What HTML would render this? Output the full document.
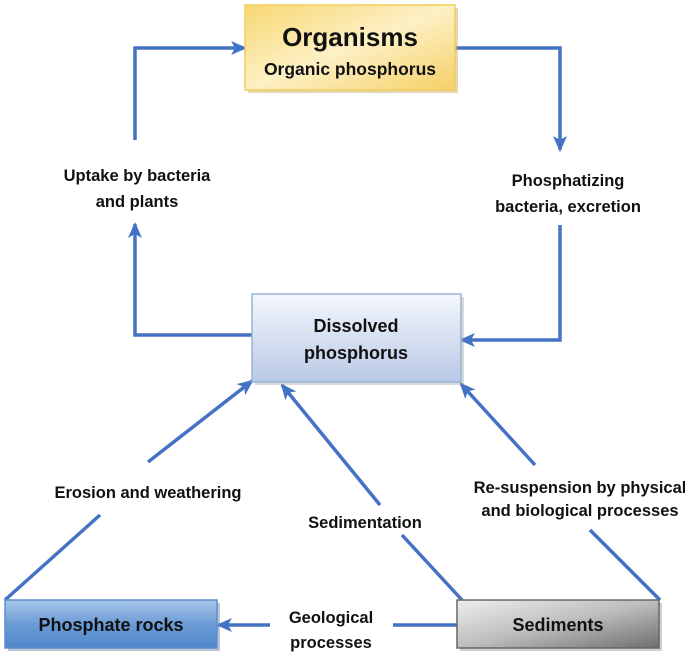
<!DOCTYPE html>
<html><head><meta charset="utf-8"><style>
html,body{margin:0;padding:0;background:#fff;}
svg{display:block;font-family:"Liberation Sans",Arial,sans-serif;font-weight:bold;}
</style></head><body>
<svg width="685" height="656" viewBox="0 0 685 656" xmlns="http://www.w3.org/2000/svg">
<defs>
<linearGradient id="gy" x1="0" y1="0" x2="1" y2="1"><stop offset="0" stop-color="#f7d873"/><stop offset="0.5" stop-color="#fdf0c4"/><stop offset="1" stop-color="#f5d066"/></linearGradient>
<linearGradient id="gb" x1="0" y1="0" x2="0" y2="1"><stop offset="0" stop-color="#f4f7fc"/><stop offset="1" stop-color="#b9c9e6"/></linearGradient>
<linearGradient id="gr" x1="0" y1="0" x2="0" y2="1"><stop offset="0" stop-color="#a9c8ea"/><stop offset="0.5" stop-color="#6b9bd6"/><stop offset="1" stop-color="#4f86c9"/></linearGradient>
<linearGradient id="gs" x1="0" y1="0" x2="1" y2="1"><stop offset="0" stop-color="#eeeeee"/><stop offset="0.5" stop-color="#bdbdbd"/><stop offset="1" stop-color="#6e6e6e"/></linearGradient>
<marker id="a" markerWidth="16" markerHeight="14" refX="14" refY="7" orient="auto" markerUnits="userSpaceOnUse"><path d="M0,0 L16,7 L0,14 L4,7 Z" fill="#4472c4"/></marker>
</defs>
<g stroke="#4472c4" stroke-width="3.5" fill="none">
<polyline points="135,140 135,48 245,48" marker-end="url(#a)"/>
<polyline points="455,48 560,48 560,150" marker-end="url(#a)"/>
<polyline points="252,335 135,335 135,224" marker-end="url(#a)"/>
<polyline points="560,225 560,340 461,340" marker-end="url(#a)"/>
<line x1="5" y1="600" x2="100" y2="515"/>
<line x1="148" y1="462" x2="252" y2="381" marker-end="url(#a)"/>
<line x1="462" y1="600" x2="402" y2="535"/>
<line x1="380" y1="505" x2="282" y2="385" marker-end="url(#a)"/>
<line x1="660" y1="600" x2="590" y2="530"/>
<line x1="535" y1="465" x2="461" y2="384" marker-end="url(#a)"/>
<line x1="393" y1="625" x2="457" y2="625"/>
<line x1="270" y1="625" x2="218" y2="625" marker-end="url(#a)"/>
</g>
<rect x="248" y="8" width="210" height="85" fill="#c9b06a" opacity="0.5"/>
<rect x="245" y="5" width="210" height="85" fill="url(#gy)" stroke="#f2cd5c" stroke-width="1.5"/>
<rect x="255" y="297" width="209" height="88" fill="#a0a0a0" opacity="0.4"/>
<rect x="252" y="294" width="209" height="88" fill="url(#gb)" stroke="#95b3d7" stroke-width="1.5"/>
<rect x="8" y="603" width="212" height="48" fill="#7a8fa8" opacity="0.5"/>
<rect x="5" y="600" width="212" height="48" fill="url(#gr)" stroke="#5b8fd0" stroke-width="1.5"/>
<rect x="460" y="603" width="202" height="48" fill="#888" opacity="0.4"/>
<rect x="457" y="600" width="202" height="48" fill="url(#gs)" stroke="#666" stroke-width="1.5"/>
<g fill="#111" text-anchor="middle">
<text x="350" y="46" font-size="26">Organisms</text>
<text x="350" y="75" font-size="17.5">Organic phosphorus</text>
<text x="356" y="332" font-size="18">Dissolved</text>
<text x="356" y="359" font-size="18">phosphorus</text>
<text x="111" y="631" font-size="18">Phosphate rocks</text>
<text x="558" y="631" font-size="18">Sediments</text>
<g font-size="16.5">
<text x="137" y="181">Uptake by bacteria</text>
<text x="137" y="207">and plants</text>
<text x="568" y="186">Phosphatizing</text>
<text x="568" y="212">bacteria, excretion</text>
<text x="148" y="498">Erosion and weathering</text>
<text x="365" y="528">Sedimentation</text>
<text x="580" y="493">Re-suspension by physical</text>
<text x="580" y="516">and biological processes</text>
<text x="331" y="623">Geological</text>
<text x="331" y="648">processes</text>
</g>
</g>
</svg>
</body></html>
